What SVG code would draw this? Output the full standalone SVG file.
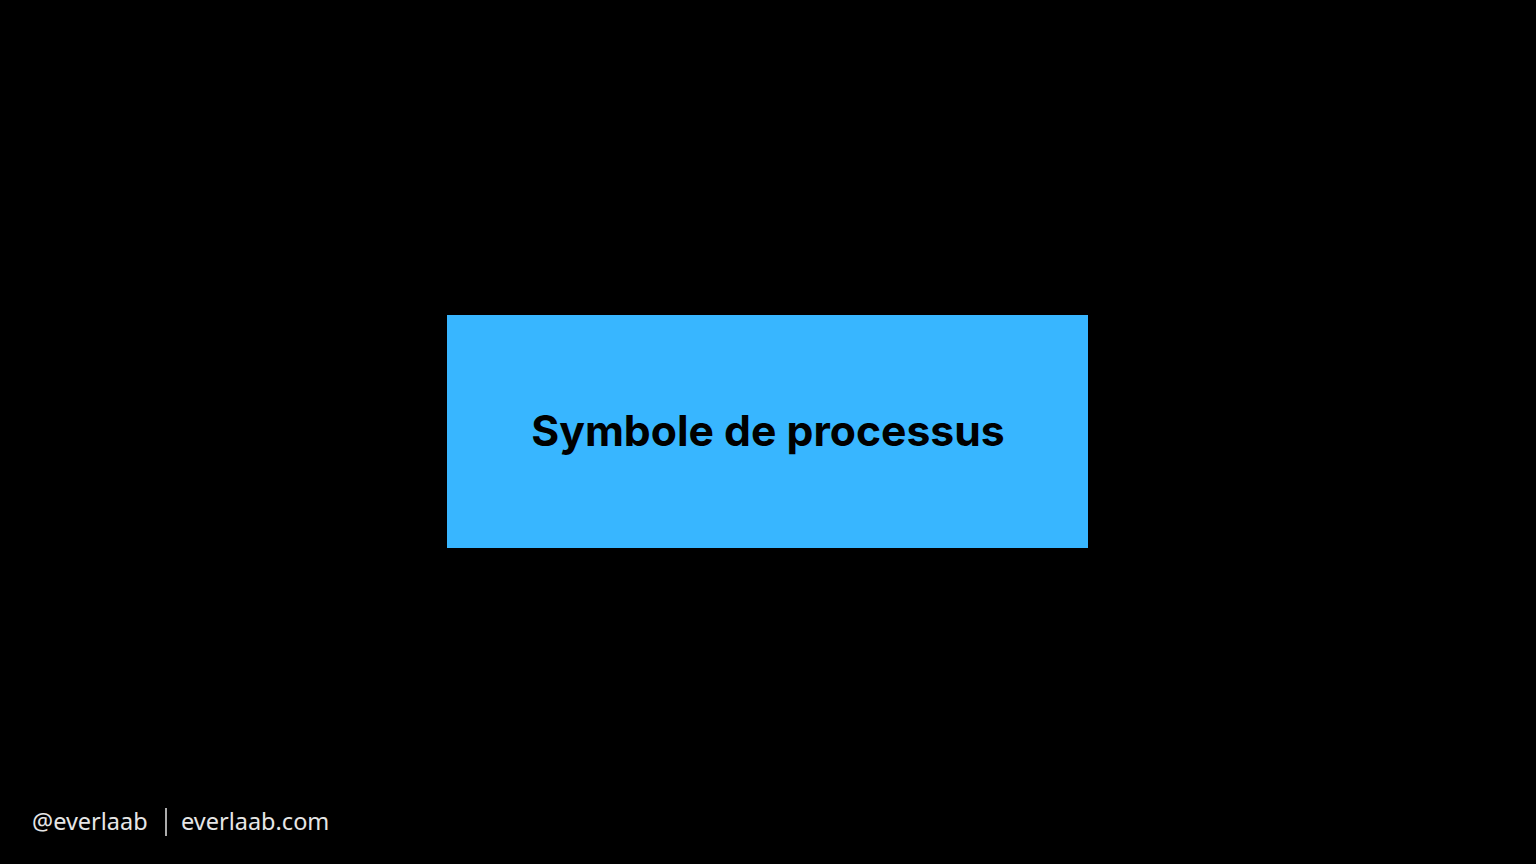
<svg xmlns="http://www.w3.org/2000/svg" width="1536" height="864" viewBox="0 0 1536 864">
<style>
.node{fill:#38b6ff}
.label{font-family:Inter,"Liberation Sans",sans-serif;font-weight:700;font-size:42.7px;fill:#000}
.foot{font-family:"Noto Sans","Open Sans",sans-serif;font-size:23.5px;fill:#e6e6e6}
</style>
<rect width="1536" height="864" fill="#000"/>
<g id="connectors"></g>
<g id="process">
<rect class="node" x="447" y="315" width="641" height="233"/>
<text class="label" x="768" y="446" text-anchor="middle">Symbole de processus</text>
</g>
<g id="footer">
<text class="foot" x="32" y="830">@everlaab</text>
<line x1="166" y1="808" x2="166" y2="836" stroke="#e6e6e6" stroke-width="1.5"/>
<text class="foot" x="181" y="830">everlaab.com</text>
</g>
</svg>
